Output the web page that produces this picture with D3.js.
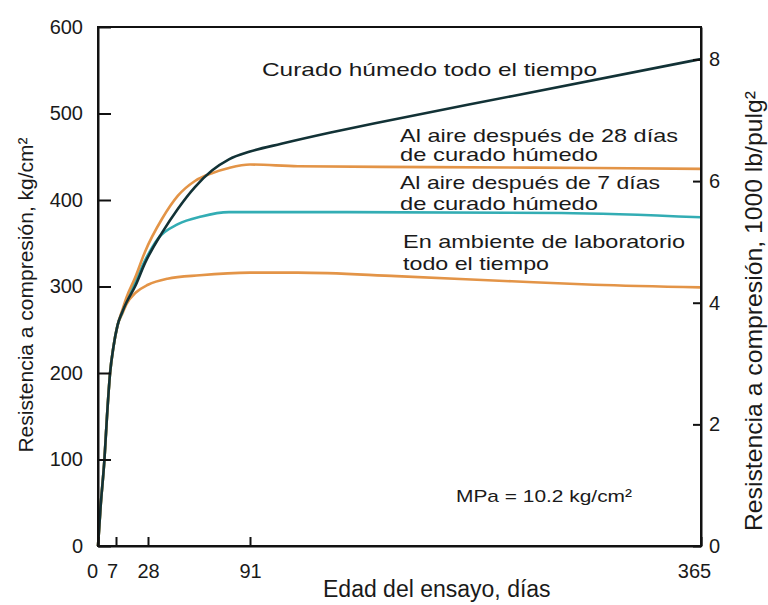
<!DOCTYPE html>
<html>
<head>
<meta charset="utf-8">
<script src="https://cdn.jsdelivr.net/npm/d3@7"></script>
<style>
  body { margin: 0; background: #fff; }
  text { font-family: "Liberation Sans", Arial, sans-serif; fill: #1a1a1a; }
</style>
</head>
<body>
<svg id="chart"></svg>
<script>
// edad del ensayo (dias) y resistencia (kg/cm2)
const diasHumedo = [0, 1, 2.5, 3.5, 4.7, 6, 8, 11, 14, 19.5, 26, 36.6, 46.5, 57, 67.5, 78, 91, 110, 140, 170, 250, 365];
const curadoHumedo = [0, 45, 100, 150, 200, 230, 255, 270, 282, 300, 327, 362, 390, 415, 434, 447, 456, 465, 478, 490, 520, 563];

const dias28 = [0, 1, 2.5, 3.5, 4.7, 6, 8, 11, 14, 19.5, 26, 36.6, 46.5, 57, 67.5, 78, 91, 120, 200, 300, 365];
const aire28 = [0, 45, 100, 150, 200, 230, 255, 272, 288, 310, 340, 378, 405, 422, 431, 437, 441, 439, 438, 437, 436];

const dias7 = [0, 1, 2.5, 3.5, 4.7, 6, 8, 11, 14, 19.5, 26, 34, 46.5, 61, 78, 150, 280, 365];
const aire7 = [0, 45, 100, 150, 200, 230, 255, 270, 285, 305, 330, 355, 372, 381, 386, 386, 385, 380];

const diasLab = [0, 1, 2.5, 3.5, 4.7, 6, 8, 11, 14, 20, 28, 40, 60, 91, 120, 180, 250, 300, 365];
const laboratorio = [0, 45, 100, 150, 200, 230, 255, 268, 280, 293, 302, 309, 313, 316, 316, 312, 306, 302, 299];

const xTicks = [0, 7, 28, 91, 365];
const yTicks = [0, 100, 200, 300, 400, 500, 600];
const psiTicks = [0, 2, 4, 6, 8];

const width = 768, height = 605;
const svg = d3.select("#chart").attr("width", width).attr("height", height);

// la escala de la figura no es perfectamente lineal cerca del origen
const x = d3.scaleLinear()
    .domain([0, 7, 28, 91, 365])
    .range([98, 116, 148, 250, 701]);

const y = d3.scaleLinear()
    .domain([0, 600])
    .range([546, 27]);

// 1000 lb/pulg2 = 70.31 kg/cm2
const y2 = d3.scaleLinear()
    .domain([0, 600 / 70.31])
    .range([546, 27]);

const line = d3.line()
    .x(d => x(d[0]))
    .y(d => y(d[1]))
    .curve(d3.curveMonotoneX);

const series = [
  { dias: diasLab, vals: laboratorio, color: "#e39447" },
  { dias: dias7, vals: aire7, color: "#33adb4" },
  { dias: dias28, vals: aire28, color: "#e39447" },
  { dias: diasHumedo, vals: curadoHumedo, color: "#123236" }
];

svg.append("g")
  .selectAll("path")
  .data(series)
  .join("path")
    .attr("d", s => line(d3.zip(s.dias, s.vals)))
    .attr("fill", "none")
    .attr("stroke", s => s.color)
    .attr("stroke-width", 2.6);

// ejes
const yAxis = svg.append("g")
    .attr("transform", `translate(${x(0)},0)`)
    .call(d3.axisLeft(y).tickValues(yTicks).tickSizeInner(-13).tickSizeOuter(0).tickPadding(15));

const y2Axis = svg.append("g")
    .attr("transform", `translate(${x(365)},0)`)
    .call(d3.axisRight(y2).tickValues(psiTicks).tickSizeInner(-8).tickSizeOuter(0).tickPadding(8));

const xAxis = svg.append("g")
    .attr("transform", `translate(0,${y(0)})`)
    .call(d3.axisBottom(x).tickValues(xTicks).tickSizeInner(-9).tickSizeOuter(0).tickPadding(18));

[yAxis, y2Axis, xAxis].forEach(a => {
  a.selectAll("path").attr("stroke", "#111").attr("stroke-width", 2);
  a.selectAll("line").attr("stroke", "#111").attr("stroke-width", 2);
  a.selectAll("text").style("font-size", "20px").attr("fill", "#1a1a1a")
   .style("font-family", "'Liberation Sans', Arial, sans-serif");
});
xAxis.selectAll("text").attr("dx", d => d == 0 ? -6 : d == 7 ? -4 : d == 365 ? -7 : 0);

// marco
svg.append("rect")
    .attr("x", x(0)).attr("y", y(600))
    .attr("width", x(365) - x(0)).attr("height", y(0) - y(600))
    .attr("fill", "none").attr("stroke", "#111").attr("stroke-width", 2);

// titulos de ejes
svg.append("text")
    .attr("transform", `translate(33,295) rotate(-90)`)
    .attr("text-anchor", "middle")
    .style("font-size", "21px")
    .text("Resistencia a compresión, kg/cm²");

svg.append("text")
    .attr("transform", `translate(762,311) rotate(-90)`)
    .attr("text-anchor", "middle")
    .style("font-size", "24px")
    .attr("textLength", 440)
    .attr("lengthAdjust", "spacingAndGlyphs")
    .text("Resistencia a compresión, 1000 lb/pulg²");

svg.append("text")
    .attr("x", 323).attr("y", 597)
    .style("font-size", "23px")
    .text("Edad del ensayo, días");

// rotulos de curvas
const rotulos = [
  { t: "Curado húmedo todo el tiempo", x: 262, y: 76, w: 335 },
  { t: "Al aire después de 28 días", x: 400, y: 142, w: 278 },
  { t: "de curado húmedo", x: 400, y: 161, w: 198 },
  { t: "Al aire después de 7 días", x: 400, y: 189, w: 260 },
  { t: "de curado húmedo", x: 400, y: 210, w: 198 },
  { t: "En ambiente de laboratorio", x: 403, y: 248, w: 282 },
  { t: "todo el tiempo", x: 403, y: 270, w: 146 },
  { t: "MPa = 10.2 kg/cm²", x: 456, y: 502, w: 176 }
];

svg.append("g")
  .selectAll("text")
  .data(rotulos)
  .join("text")
    .attr("x", d => d.x)
    .attr("y", d => d.y)
    .attr("textLength", d => d.w)
    .attr("lengthAdjust", "spacingAndGlyphs")
    .style("font-size", d => d.t.startsWith("MPa") ? "17px" : "19px")
    .text(d => d.t);
</script>
</body>
</html>
